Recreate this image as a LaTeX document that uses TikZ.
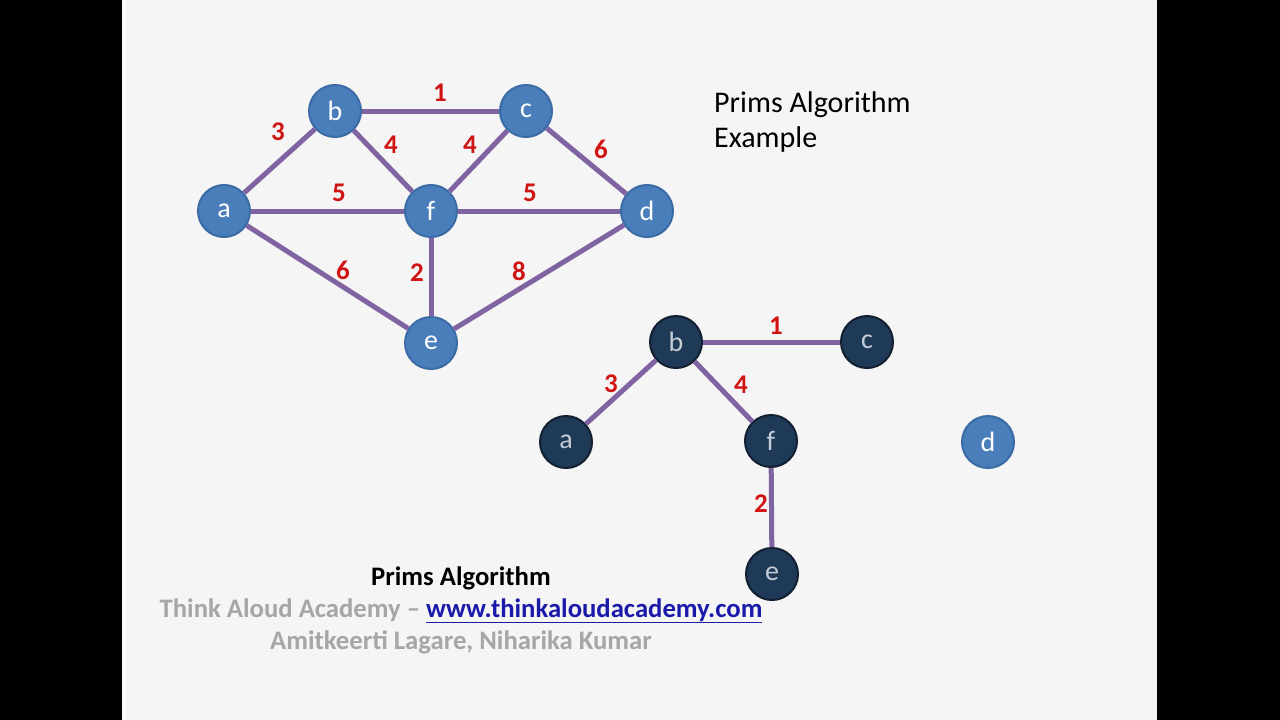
\documentclass[tikz,border=0pt]{standalone}
\usepackage{fontspec}
\setmainfont{Carlito}
\usetikzlibrary{positioning}
\definecolor{nodeblue}{HTML}{4A7EBB}
\definecolor{nodeblueline}{HTML}{3A6BA5}
\definecolor{nodedark}{HTML}{1F3A57}
\definecolor{nodedarkline}{HTML}{111F30}
\definecolor{nodedarktext}{HTML}{C4CCD6}
\definecolor{edgepurple}{HTML}{8064A2}
\definecolor{weightred}{HTML}{D01414}
\definecolor{bggray}{HTML}{F5F5F5}
\definecolor{textgray}{HTML}{A6A6A6}
\definecolor{linkblue}{HTML}{1A1AAA}

\begin{document}
\begin{tikzpicture}[x=1pt,y=-1pt,
  vertex/.style={circle,draw=nodeblueline,fill=nodeblue,line width=2pt,
    minimum size=52pt,inner sep=0pt,text=white,font=\fontsize{28}{30}\selectfont},
  donevertex/.style={vertex,draw=nodedarkline,fill=nodedark,text=nodedarktext},
  edge/.style={edgepurple,line width=5pt},
  weight/.style={text=weightred,inner sep=0pt,font=\bfseries\fontsize{27}{30}\selectfont}]
       % screen
       \fill[black] (0,0) rectangle (1280,720);
       \fill[bggray] (122,0) rectangle (1157,720);
       \fill[white] (123,0) rectangle (126,720);
       \useasboundingbox (0,0) rectangle (1280,720);
       % full graph
       \node[vertex] (a) at (224,211) {a};
       \node[vertex] (b) at (335,111) {b};
       \node[vertex] (c) at (526,111) {c};
       \node[vertex] (d) at (647,211) {d};
       \node[vertex] (e) at (431,343) {e};
       \node[vertex] (f) at (431,211) {f};
       \draw[edge] (a) -- (b);
       \draw[edge] (b) -- (c);
       \draw[edge] (b) -- (f);
       \draw[edge] (c) -- (f);
       \draw[edge] (c) -- (d);
       \draw[edge] (a) -- (f);
       \draw[edge] (f) -- (d);
       \draw[edge] (a) -- (e);
       \draw[edge] (f) -- (e);
       \draw[edge] (d) -- (e);
       \node[weight] (wab) at (278,132) {3};
       \node[weight] (wbc) at (440,93) {1};
       \node[weight] (wbf) at (391,145) {4};
       \node[weight] (wcf) at (470,145) {4};
       \node[weight] (wcd) at (601,149) {6};
       \node[weight] (waf) at (339,193) {5};
       \node[weight] (wfd) at (530,193) {5};
       \node[weight] (wae) at (343,270) {6};
       \node[weight] (wfe) at (417,273) {2};
       \node[weight] (wde) at (519,271) {8};
       % spanning tree so far
       \node[donevertex] (ta) at (566,442) {a};
       \node[donevertex] (tb) at (676,342) {b};
       \node[donevertex] (tc) at (867,342) {c};
       \node[vertex] (td) at (988,442) {d};
       \node[donevertex] (te) at (772,574) {e};
       \node[donevertex] (tf) at (771,441) {f};
       \draw[edge] (ta) -- (tb);
       \draw[edge] (tb) -- (tc);
       \draw[edge] (tb) -- (tf);
       \draw[edge] (tf) -- (te);
       \node[weight] (twab) at (611,384) {3};
       \node[weight] (twbc) at (776,326) {1};
       \node[weight] (twbf) at (741,385) {4};
       \node[weight] (twfe) at (761,504) {2};
       % titles
       \node[anchor=base west,align=left,inner sep=0pt,font=\fontsize{30}{35}\selectfont]
         (title) at (714,147) {Prims Algorithm\\Example};
       \node[anchor=base,align=center,inner sep=0pt,font=\bfseries\fontsize{26.7}{32}\selectfont]
         (credits) at (461,649) {Prims Algorithm\\
         \textcolor{textgray}{Think Aloud Academy --} \textcolor{linkblue}{\underline{www.thinkaloudacademy.com}}\\
         \textcolor{textgray}{Amitkeerti Lagare, Niharika Kumar}};
\end{tikzpicture}
\end{document}
